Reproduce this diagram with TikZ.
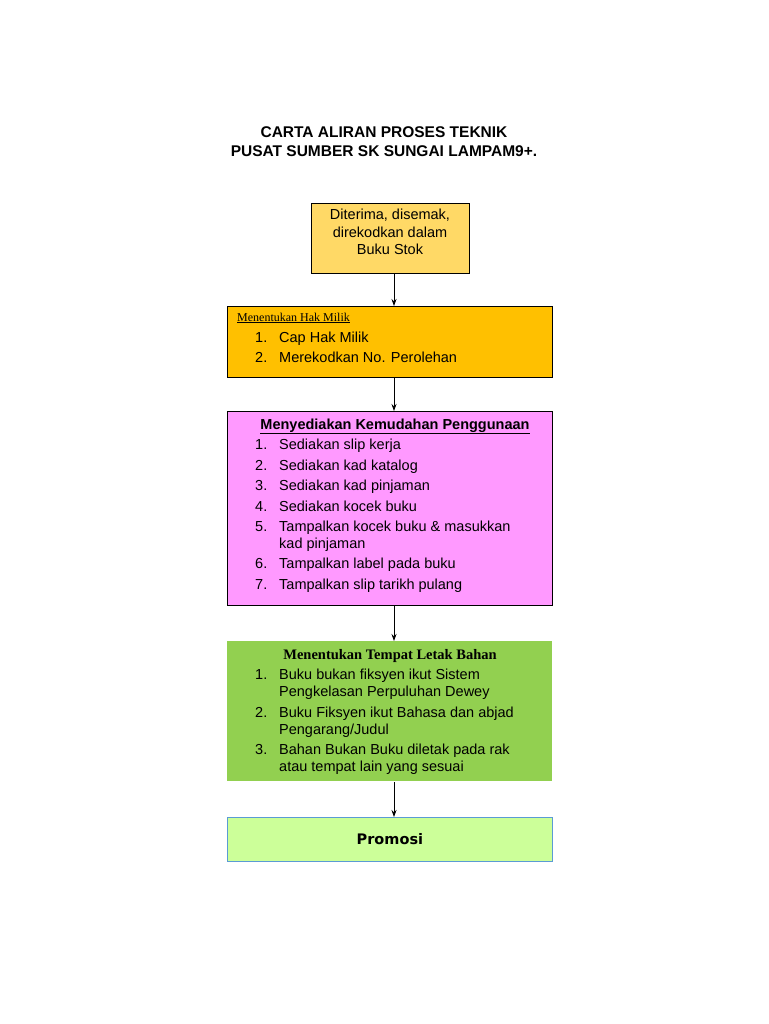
\documentclass[tikz,border=0pt]{standalone}
\usepackage{fontspec}
\setmainfont{Liberation Sans}
\newfontfamily\seriff{Liberation Serif}
\newfontfamily\dejab{DejaVu Sans}
\usetikzlibrary{arrows.meta}
\definecolor{c1}{HTML}{FFD966}
\definecolor{c2}{HTML}{FFC000}
\definecolor{c3}{HTML}{FF99FF}
\definecolor{c4}{HTML}{92D050}
\definecolor{c5}{HTML}{CCFF99}
\definecolor{bl}{HTML}{5B9BD5}
\begin{document}
\begin{tikzpicture}[x=1pt,y=-1pt,
  box/.style={draw=black,line width=0.8pt,inner sep=0,anchor=north west},
  txt/.style={anchor=base west,inner sep=0,font=\fontsize{14.5}{17}\selectfont},
  arr/.style={-{Stealth[length=7pt,width=5pt]},line width=0.8pt}]
\useasboundingbox (0,0) rectangle (768,1024);
\fill[white] (0,0) rectangle (768,1024);
\node[box,fill=c1,minimum width=158pt,minimum height=70pt] (b1) at (311,203) {};
\node[box,fill=c2,minimum width=325pt,minimum height=71pt] (b2) at (227,306) {};
\node[box,fill=c3,minimum width=325pt,minimum height=194pt] (b3) at (227,411) {};
\node[box,draw=none,fill=c4,minimum width=325pt,minimum height=140pt] (b4) at (227,641) {};
\node[box,draw=bl,fill=c5,minimum width=325pt,minimum height=44pt] (b5) at (227,817) {};
\foreach \a/\b in {b1/b2,b2/b3,b3/b4,b4/b5}
  \draw[arr] (\a.south -| 394,0) -- (\b.north -| 394,0);
% title
\node[txt,anchor=base,font=\bfseries\fontsize{15.5}{18}\selectfont] (t1) at (384,138) {CARTA ALIRAN PROSES TEKNIK};
\node[txt,anchor=base,font=\bfseries\fontsize{15.5}{18}\selectfont] (t2) at (384,157) {PUSAT SUMBER SK SUNGAI LAMPAM9+.};
% box1
\node[txt,anchor=base] (a1) at (390,220) {Diterima, disemak,};
\node[txt,anchor=base] (a2) at (390,237) {direkodkan dalam};
\node[txt,anchor=base] (a3) at (390,254) {Buku Stok};
% box2
\node[txt,font=\seriff\fontsize{12}{14}\selectfont] (h2) at (237,321) {\underline{Menentukan Hak Milik}};
\foreach \n/\t/\y in {1/Cap Hak Milik/342,2/Merekodkan No. Perolehan/362}{
  \node[txt] (n2\n) at (255,\y) {\n.};
  \node[txt] (l2\n) at (279,\y) {\t};}
% box3
\node[txt,anchor=base,font=\bfseries\fontsize{14.5}{17}\selectfont] (h3) at (395,429) {\underline{Menyediakan Kemudahan Penggunaan}};
\foreach \n/\t/\y in {1/Sediakan slip kerja/449,2/Sediakan kad katalog/470,3/Sediakan kad pinjaman/490,4/Sediakan kocek buku/511,5/Tampalkan kocek buku \& masukkan/531,6/Tampalkan label pada buku/568,7/Tampalkan slip tarikh pulang/589}{
  \node[txt] (n3\n) at (255,\y) {\n.};
  \node[txt] (l3\n) at (279,\y) {\t};}
\node[txt] (l35b) at (279,548) {kad pinjaman};
% box4
\node[txt,anchor=base,font=\seriff\bfseries\fontsize{14.5}{17}\selectfont] (h4) at (390,659) {Menentukan Tempat Letak Bahan};
\foreach \n/\t/\u/\y in {1/Buku bukan fiksyen ikut Sistem/Pengkelasan Perpuluhan Dewey/679,2/Buku Fiksyen ikut Bahasa dan abjad/Pengarang\slash Judul/717,3/Bahan Bukan Buku diletak pada rak/atau tempat lain yang sesuai/754}{
  \node[txt] (n4\n) at (255,\y) {\n.};
  \node[txt] (l4\n) at (279,\y) {\t};
  \node[txt] (m4\n) at (279,\y+17) {\u};}
% box5
\node[font=\dejab\bfseries\fontsize{14.5}{17}\selectfont] (p5) at (b5.center) {Promosi};
\end{tikzpicture}
\end{document}
